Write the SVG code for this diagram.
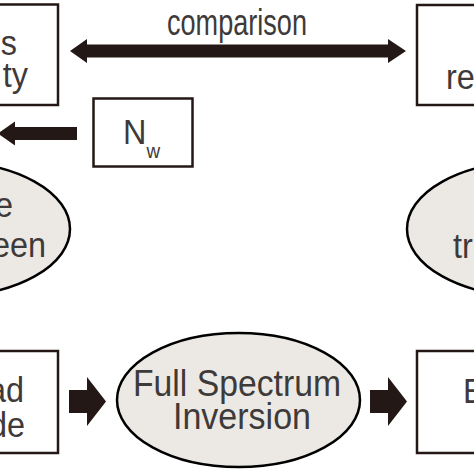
<svg xmlns="http://www.w3.org/2000/svg" width="474" height="474" viewBox="0 0 474 474">
  <style>
    .box { fill: #ffffff; stroke: #231815; stroke-width: 2.5; }
    .ell { fill: #ece9e5; stroke: #000000; stroke-width: 2.5; }
    .t { font-family: "Liberation Sans", Arial, sans-serif; font-size: 36px; fill: #3e3a39; }
    .arr { fill: #231815; stroke: none; }
  </style>
  <rect width="474" height="474" fill="#ffffff"/>

  <g id="node-top-left">
    <rect class="box" x="-10" y="4.5" width="68" height="100.5"/>
    <text class="t" transform="translate(17,55) scale(0.9,1)" text-anchor="end">us</text>
    <text class="t" transform="translate(28,87) scale(0.9,1)" text-anchor="end">ty</text>
  </g>

  <g id="node-top-right">
    <rect class="box" x="417" y="5" width="70" height="100"/>
    <text class="t" transform="translate(446,89) scale(0.9,1)">re</text>
  </g>

  <g id="node-nw">
    <rect class="box" x="93.5" y="98.5" width="99" height="68"/>
    <text class="t" transform="translate(123,144) scale(0.9,1)">N<tspan x="26" y="14" font-size="21">w</tspan></text>
  </g>

  <g id="node-left-ellipse">
    <ellipse class="ell" cx="-51" cy="229" rx="121" ry="67"/>
    <text class="t" transform="translate(13,217) scale(0.9,1)" text-anchor="end">e</text>
    <text class="t" transform="translate(46,257) scale(0.9,1)" text-anchor="end">een</text>
  </g>

  <g id="node-right-ellipse">
    <ellipse class="ell" cx="528" cy="229" rx="121" ry="67"/>
    <text class="t" transform="translate(453,258) scale(0.9,1)">tr</text>
  </g>

  <g id="node-bottom-left">
    <rect class="box" x="-10" y="351" width="68" height="102"/>
    <text class="t" transform="translate(24,402) scale(0.9,1)" text-anchor="end">ad</text>
    <text class="t" transform="translate(25,437) scale(0.9,1)" text-anchor="end">de</text>
  </g>

  <g id="node-fsi">
    <ellipse class="ell" cx="238.5" cy="400" rx="121.5" ry="67"/>
    <text class="t" x="237" y="396" text-anchor="middle" font-size="37" textLength="208" lengthAdjust="spacingAndGlyphs">Full Spectrum</text>
    <text class="t" x="242" y="429" text-anchor="middle" font-size="37" textLength="138" lengthAdjust="spacingAndGlyphs">Inversion</text>
  </g>

  <g id="node-bottom-right">
    <rect class="box" x="417" y="351" width="70" height="102"/>
    <text class="t" transform="translate(463,403) scale(0.9,1)">E</text>
  </g>

  <g id="connectors">
    <polygon class="arr" points="70,51 87,39 87,44.5 388,44.5 388,39 406,51 388,63 388,57.5 87,57.5 87,63"/>
    <text class="t" x="237" y="35" text-anchor="middle" font-size="28" textLength="140" lengthAdjust="spacingAndGlyphs">comparison</text>
    <polygon class="arr" points="77,127 15,127 15,121.5 -2,133.5 15,145.5 15,140 77,140"/>
    <polygon class="arr" points="69,390 87,390 87,377 106,401.5 87,426 87,413 69,413"/>
    <polygon class="arr" points="370,390 388,390 388,377 407,401.5 388,426 388,413 370,413"/>
  </g>
</svg>
